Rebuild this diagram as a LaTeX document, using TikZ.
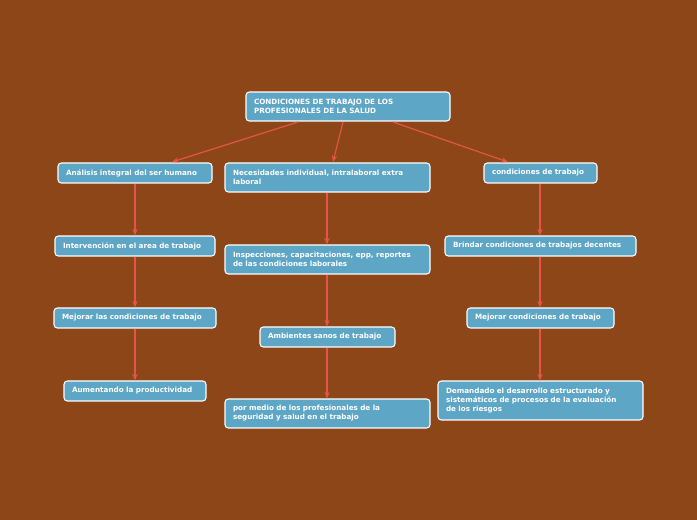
\documentclass[tikz,border=0pt]{standalone}
\usepackage{fontspec}
\setmainfont{DejaVu Sans}
\usetikzlibrary{arrows.meta}
\definecolor{bg}{RGB}{140,70,24}
\definecolor{bx}{RGB}{94,166,198}
\definecolor{ln}{RGB}{228,84,72}
\tikzset{
 bx/.style={draw=white,line width=0.8pt,fill=bx,rounded corners=2.5pt,text=white,font=\bfseries\fontsize{5.4}{6.8}\selectfont,inner xsep=0pt,inner ysep=0pt,align=left},
 cn/.style={draw=ln,line width=0.9pt,-{Stealth[length=5pt,width=4pt]}}
}
\newcommand{\bxn}[6]{\node[bx,minimum width={(#4-#2)*0.75pt},minimum height={(#5-#3)*0.75pt},text width={(#4-#2-16)*0.75pt}] (#1) at ({(#2+#4)/2},{(#3+#5)/2}) {#6};}
\begin{document}
\begin{tikzpicture}[x=0.75pt,y=-0.75pt]
\fill[bg] (0,0) rectangle (697,520);
\useasboundingbox (0,0) rectangle (697,520);
\bxn{r}{246}{92}{450}{121}{CONDICIONES DE TRABAJO DE LOS\\PROFESIONALES DE LA SALUD}
\bxn{a1}{58}{163}{212}{183}{Análisis integral del ser humano}
\bxn{a2}{55}{236}{215}{256}{Intervención en el area de trabajo}
\bxn{a3}{54}{308}{216}{328}{Mejorar las condiciones de trabajo}
\bxn{a4}{64}{381}{206}{401}{Aumentando la productividad}
\bxn{b1}{225}{163}{430}{192}{Necesidades individual, intralaboral extra\\laboral}
\bxn{b2}{225}{245}{430}{274}{Inspecciones, capacitaciones, epp, reportes\\de las condiciones laborales}
\bxn{b3}{260}{327}{395}{347}{Ambientes sanos de trabajo}
\bxn{b4}{225}{399}{430}{428}{por medio de los profesionales de la\\seguridad y salud en el trabajo}
\bxn{c1}{484}{163}{597}{183}{condiciones de trabajo}
\bxn{c2}{445}{236}{636}{256}{Brindar condiciones de trabajos decentes}
\bxn{c3}{467}{308}{614}{328}{Mejorar condiciones de trabajo}
\bxn{c4}{438}{381}{643}{420}{Demandado el desarrollo estructurado y\\sistemáticos de procesos de la evaluación\\de los riesgos}
\coordinate (r1) at (298,122); \coordinate (r2) at (343,122); \coordinate (r3) at (393,122);
\coordinate (t1) at (172,162); \coordinate (t2) at (333,162); \coordinate (t3) at (508,162);
\draw[cn] (r1) -- (t1); \draw[cn] (r2) -- (t2); \draw[cn] (r3) -- (t3);
\draw[cn] (135,184) -- (a2.north -| 135,0);
\draw[cn] (a2.south -| 135,0) -- (a3.north -| 135,0);
\draw[cn] (a3.south -| 135,0) -- (a4.north -| 135,0);
\draw[cn] (b1.south -| 327,0) -- (b2.north -| 327,0);
\draw[cn] (b2.south -| 327,0) -- (b3.north -| 327,0);
\draw[cn] (b3.south -| 327,0) -- (b4.north -| 327,0);
\draw[cn] (c1.south -| 540,0) -- (c2.north -| 540,0);
\draw[cn] (c2.south -| 540,0) -- (c3.north -| 540,0);
\draw[cn] (c3.south -| 540,0) -- (c4.north -| 540,0);
\end{tikzpicture}
\end{document}
